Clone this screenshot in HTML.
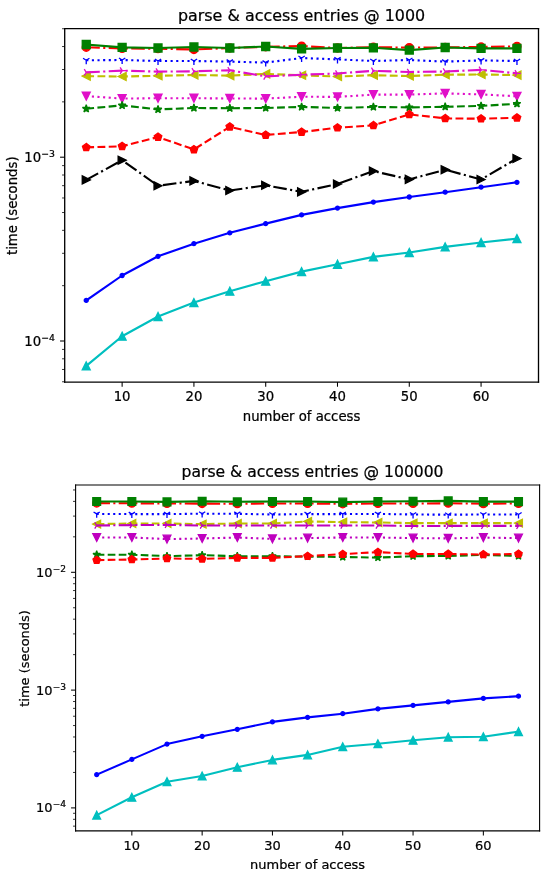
<!DOCTYPE html>
<html><head><meta charset="utf-8"><title>plot</title>
<style>html,body{margin:0;padding:0;background:#fff}svg{display:block}svg text{stroke:#000;stroke-width:0.17;stroke-linejoin:round}</style></head>
<body>
<svg width="550" height="873" viewBox="0 0 396 628.56" version="1.1">
 
 <defs>
  <style type="text/css">*{stroke-linejoin: round; stroke-linecap: butt}</style>
 </defs>
 <g id="figure_1">
  <g id="patch_1">
   <path d="M 0 628.56 
L 396 628.56 
L 396 0 
L 0 0 
z
" style="fill: #ffffff"/>
  </g>
  <g id="axes_1">
   <g id="patch_2">
    <path d="M 46.584 275.112 
L 387.72 275.112 
L 387.72 20.592 
L 46.584 20.592 
z
" style="fill: #ffffff"/>
   </g>
   <g id="matplotlib.axis_1">
    <g id="xtick_1">
     <g id="line2d_1">
      <defs>
       <path id="m4c61a40a9d" d="M 0 0 
L 0 3.3425 
" style="stroke: #000000; stroke-width: 0.764"/>
      </defs>
      <g>
       <use href="#m4c61a40a9d" x="87.933818" y="275.112" style="stroke: #000000; stroke-width: 0.764"/>
      </g>
     </g>
     <g id="text_1">
      <text style="font-size: 9.55px; font-family: 'DejaVu Sans', 'Liberation Sans', sans-serif; text-anchor: middle" x="87.933818" y="289.053508" transform="rotate(-0 87.933818 289.053508)">10</text>
     </g>
    </g>
    <g id="xtick_2">
     <g id="line2d_2">
      <g>
       <use href="#m4c61a40a9d" x="139.621091" y="275.112" style="stroke: #000000; stroke-width: 0.764"/>
      </g>
     </g>
     <g id="text_2">
      <text style="font-size: 9.55px; font-family: 'DejaVu Sans', 'Liberation Sans', sans-serif; text-anchor: middle" x="139.621091" y="289.053508" transform="rotate(-0 139.621091 289.053508)">20</text>
     </g>
    </g>
    <g id="xtick_3">
     <g id="line2d_3">
      <g>
       <use href="#m4c61a40a9d" x="191.308364" y="275.112" style="stroke: #000000; stroke-width: 0.764"/>
      </g>
     </g>
     <g id="text_3">
      <text style="font-size: 9.55px; font-family: 'DejaVu Sans', 'Liberation Sans', sans-serif; text-anchor: middle" x="191.308364" y="289.053508" transform="rotate(-0 191.308364 289.053508)">30</text>
     </g>
    </g>
    <g id="xtick_4">
     <g id="line2d_4">
      <g>
       <use href="#m4c61a40a9d" x="242.995636" y="275.112" style="stroke: #000000; stroke-width: 0.764"/>
      </g>
     </g>
     <g id="text_4">
      <text style="font-size: 9.55px; font-family: 'DejaVu Sans', 'Liberation Sans', sans-serif; text-anchor: middle" x="242.995636" y="289.053508" transform="rotate(-0 242.995636 289.053508)">40</text>
     </g>
    </g>
    <g id="xtick_5">
     <g id="line2d_5">
      <g>
       <use href="#m4c61a40a9d" x="294.682909" y="275.112" style="stroke: #000000; stroke-width: 0.764"/>
      </g>
     </g>
     <g id="text_5">
      <text style="font-size: 9.55px; font-family: 'DejaVu Sans', 'Liberation Sans', sans-serif; text-anchor: middle" x="294.682909" y="289.053508" transform="rotate(-0 294.682909 289.053508)">50</text>
     </g>
    </g>
    <g id="xtick_6">
     <g id="line2d_6">
      <g>
       <use href="#m4c61a40a9d" x="346.370182" y="275.112" style="stroke: #000000; stroke-width: 0.764"/>
      </g>
     </g>
     <g id="text_6">
      <text style="font-size: 9.55px; font-family: 'DejaVu Sans', 'Liberation Sans', sans-serif; text-anchor: middle" x="346.370182" y="289.053508" transform="rotate(-0 346.370182 289.053508)">60</text>
     </g>
    </g>
    <g id="text_7">
     <text style="font-size: 9.55px; font-family: 'DejaVu Sans', 'Liberation Sans', sans-serif; text-anchor: middle" x="217.152" y="302.836117" transform="rotate(-0 217.152 302.836117)">number of access</text>
    </g>
   </g>
   <g id="matplotlib.axis_2">
    <g id="ytick_1">
     <g id="line2d_7">
      <defs>
       <path id="m2932eb66a2" d="M 0 0 
L -3.3425 0 
" style="stroke: #000000; stroke-width: 0.764"/>
      </defs>
      <g>
       <use href="#m2932eb66a2" x="46.584" y="245.52" style="stroke: #000000; stroke-width: 0.764"/>
      </g>
     </g>
     <g id="text_8">
      <!-- $\mathdefault{10^{-4}}$ -->
      <g transform="translate(17.4565 249.2483)">
       <text><tspan x="0" y="-0.064063" style="font-size: 9.55px; font-family: 'DejaVu Sans', 'Liberation Sans', sans-serif">10</tspan><tspan x="12.184082" y="-3.892188" style="font-size: 6.685px; font-family: 'DejaVu Sans', 'Liberation Sans', sans-serif">−4</tspan></text>
      </g>
     </g>
    </g>
    <g id="ytick_2">
     <g id="line2d_8">
      <g>
       <use href="#m2932eb66a2" x="46.584" y="113.184" style="stroke: #000000; stroke-width: 0.764"/>
      </g>
     </g>
     <g id="text_9">
      <!-- $\mathdefault{10^{-3}}$ -->
      <g transform="translate(17.4565 117.7123)">
       <text><tspan x="0" y="-0.976562" style="font-size: 9.55px; font-family: 'DejaVu Sans', 'Liberation Sans', sans-serif">10</tspan><tspan x="12.184082" y="-4.804688" style="font-size: 6.685px; font-family: 'DejaVu Sans', 'Liberation Sans', sans-serif">−3</tspan></text>
      </g>
     </g>
    </g>
    <g id="ytick_3">
     <g id="line2d_9">
      <defs>
       <path id="m817a35c533" d="M 0 0 
L -1.91 0 
" style="stroke: #000000; stroke-width: 0.573"/>
      </defs>
      <g>
       <use href="#m817a35c533" x="46.584" y="274.878576" style="stroke: #000000; stroke-width: 0.573"/>
      </g>
     </g>
    </g>
    <g id="ytick_4">
     <g id="line2d_10">
      <g>
       <use href="#m817a35c533" x="46.584" y="266.019106" style="stroke: #000000; stroke-width: 0.573"/>
      </g>
     </g>
    </g>
    <g id="ytick_5">
     <g id="line2d_11">
      <g>
       <use href="#m817a35c533" x="46.584" y="258.344683" style="stroke: #000000; stroke-width: 0.573"/>
      </g>
     </g>
    </g>
    <g id="ytick_6">
     <g id="line2d_12">
      <g>
       <use href="#m817a35c533" x="46.584" y="251.575363" style="stroke: #000000; stroke-width: 0.573"/>
      </g>
     </g>
    </g>
    <g id="ytick_7">
     <g id="line2d_13">
      <g>
       <use href="#m817a35c533" x="46.584" y="205.682894" style="stroke: #000000; stroke-width: 0.573"/>
      </g>
     </g>
    </g>
    <g id="ytick_8">
     <g id="line2d_14">
      <g>
       <use href="#m817a35c533" x="46.584" y="182.379682" style="stroke: #000000; stroke-width: 0.573"/>
      </g>
     </g>
    </g>
    <g id="ytick_9">
     <g id="line2d_15">
      <g>
       <use href="#m817a35c533" x="46.584" y="165.845789" style="stroke: #000000; stroke-width: 0.573"/>
      </g>
     </g>
    </g>
    <g id="ytick_10">
     <g id="line2d_16">
      <g>
       <use href="#m817a35c533" x="46.584" y="153.021106" style="stroke: #000000; stroke-width: 0.573"/>
      </g>
     </g>
    </g>
    <g id="ytick_11">
     <g id="line2d_17">
      <g>
       <use href="#m817a35c533" x="46.584" y="142.542576" style="stroke: #000000; stroke-width: 0.573"/>
      </g>
     </g>
    </g>
    <g id="ytick_12">
     <g id="line2d_18">
      <g>
       <use href="#m817a35c533" x="46.584" y="133.683106" style="stroke: #000000; stroke-width: 0.573"/>
      </g>
     </g>
    </g>
    <g id="ytick_13">
     <g id="line2d_19">
      <g>
       <use href="#m817a35c533" x="46.584" y="126.008683" style="stroke: #000000; stroke-width: 0.573"/>
      </g>
     </g>
    </g>
    <g id="ytick_14">
     <g id="line2d_20">
      <g>
       <use href="#m817a35c533" x="46.584" y="119.239363" style="stroke: #000000; stroke-width: 0.573"/>
      </g>
     </g>
    </g>
    <g id="ytick_15">
     <g id="line2d_21">
      <g>
       <use href="#m817a35c533" x="46.584" y="73.346894" style="stroke: #000000; stroke-width: 0.573"/>
      </g>
     </g>
    </g>
    <g id="ytick_16">
     <g id="line2d_22">
      <g>
       <use href="#m817a35c533" x="46.584" y="50.043682" style="stroke: #000000; stroke-width: 0.573"/>
      </g>
     </g>
    </g>
    <g id="ytick_17">
     <g id="line2d_23">
      <g>
       <use href="#m817a35c533" x="46.584" y="33.509789" style="stroke: #000000; stroke-width: 0.573"/>
      </g>
     </g>
    </g>
    <g id="ytick_18">
     <g id="line2d_24">
      <g>
       <use href="#m817a35c533" x="46.584" y="20.685106" style="stroke: #000000; stroke-width: 0.573"/>
      </g>
     </g>
    </g>
    <g id="text_10">
     <text style="font-size: 9.55px; font-family: 'DejaVu Sans', 'Liberation Sans', sans-serif; text-anchor: middle" x="12.514398" y="148.14" transform="rotate(-90 12.514398 148.14)">time (seconds)</text>
    </g>
   </g>
   <g id="line2d_25">
    <path d="M 62.090182 34.056 
L 87.933818 34.848 
L 113.777455 35.064 
L 139.621091 35.64 
L 165.464727 34.56 
L 191.308364 33.696 
L 217.152 33.192 
L 242.995636 34.56 
L 268.839273 33.984 
L 294.682909 34.272 
L 320.526545 34.128 
L 346.370182 33.84 
L 372.213818 33.408 
" clip-path="url(#p0f699a3572)" style="fill: none; stroke-dasharray: 9.7792,2.4448,1.528,2.4448; stroke-dashoffset: 0; stroke: #ff0000; stroke-width: 1.528"/>
    <defs>
     <path id="m6b7f77aff9" d="M 0 2.865 
C 0.759807 2.865 1.488596 2.563126 2.025861 2.025861 
C 2.563126 1.488596 2.865 0.759807 2.865 0 
C 2.865 -0.759807 2.563126 -1.488596 2.025861 -2.025861 
C 1.488596 -2.563126 0.759807 -2.865 0 -2.865 
C -0.759807 -2.865 -1.488596 -2.563126 -2.025861 -2.025861 
C -2.563126 -1.488596 -2.865 -0.759807 -2.865 0 
C -2.865 0.759807 -2.563126 1.488596 -2.025861 2.025861 
C -1.488596 2.563126 -0.759807 2.865 0 2.865 
z
" style="stroke: #ff0000; stroke-width: 0.955"/>
    </defs>
    <g clip-path="url(#p0f699a3572)">
     <use href="#m6b7f77aff9" x="62.090182" y="34.056" style="fill: #ff0000; stroke: #ff0000; stroke-width: 0.955"/>
     <use href="#m6b7f77aff9" x="87.933818" y="34.848" style="fill: #ff0000; stroke: #ff0000; stroke-width: 0.955"/>
     <use href="#m6b7f77aff9" x="113.777455" y="35.064" style="fill: #ff0000; stroke: #ff0000; stroke-width: 0.955"/>
     <use href="#m6b7f77aff9" x="139.621091" y="35.64" style="fill: #ff0000; stroke: #ff0000; stroke-width: 0.955"/>
     <use href="#m6b7f77aff9" x="165.464727" y="34.56" style="fill: #ff0000; stroke: #ff0000; stroke-width: 0.955"/>
     <use href="#m6b7f77aff9" x="191.308364" y="33.696" style="fill: #ff0000; stroke: #ff0000; stroke-width: 0.955"/>
     <use href="#m6b7f77aff9" x="217.152" y="33.192" style="fill: #ff0000; stroke: #ff0000; stroke-width: 0.955"/>
     <use href="#m6b7f77aff9" x="242.995636" y="34.56" style="fill: #ff0000; stroke: #ff0000; stroke-width: 0.955"/>
     <use href="#m6b7f77aff9" x="268.839273" y="33.984" style="fill: #ff0000; stroke: #ff0000; stroke-width: 0.955"/>
     <use href="#m6b7f77aff9" x="294.682909" y="34.272" style="fill: #ff0000; stroke: #ff0000; stroke-width: 0.955"/>
     <use href="#m6b7f77aff9" x="320.526545" y="34.128" style="fill: #ff0000; stroke: #ff0000; stroke-width: 0.955"/>
     <use href="#m6b7f77aff9" x="346.370182" y="33.84" style="fill: #ff0000; stroke: #ff0000; stroke-width: 0.955"/>
     <use href="#m6b7f77aff9" x="372.213818" y="33.408" style="fill: #ff0000; stroke: #ff0000; stroke-width: 0.955"/>
    </g>
   </g>
   <g id="line2d_26">
    <path d="M 62.090182 32.04 
L 87.933818 34.128 
L 113.777455 34.56 
L 139.621091 33.84 
L 165.464727 34.56 
L 191.308364 33.48 
L 217.152 35.208 
L 242.995636 34.56 
L 268.839273 34.416 
L 294.682909 36.072 
L 320.526545 34.2 
L 346.370182 34.848 
L 372.213818 34.848 
" clip-path="url(#p0f699a3572)" style="fill: none; stroke: #008000; stroke-width: 1.528; stroke-linecap: square"/>
    <defs>
     <path id="m491d82b2be" d="M -2.865 2.865 
L 2.865 2.865 
L 2.865 -2.865 
L -2.865 -2.865 
z
" style="stroke: #008000; stroke-width: 0.955; stroke-linejoin: miter"/>
    </defs>
    <g clip-path="url(#p0f699a3572)">
     <use href="#m491d82b2be" x="62.090182" y="32.04" style="fill: #008000; stroke: #008000; stroke-width: 0.955; stroke-linejoin: miter"/>
     <use href="#m491d82b2be" x="87.933818" y="34.128" style="fill: #008000; stroke: #008000; stroke-width: 0.955; stroke-linejoin: miter"/>
     <use href="#m491d82b2be" x="113.777455" y="34.56" style="fill: #008000; stroke: #008000; stroke-width: 0.955; stroke-linejoin: miter"/>
     <use href="#m491d82b2be" x="139.621091" y="33.84" style="fill: #008000; stroke: #008000; stroke-width: 0.955; stroke-linejoin: miter"/>
     <use href="#m491d82b2be" x="165.464727" y="34.56" style="fill: #008000; stroke: #008000; stroke-width: 0.955; stroke-linejoin: miter"/>
     <use href="#m491d82b2be" x="191.308364" y="33.48" style="fill: #008000; stroke: #008000; stroke-width: 0.955; stroke-linejoin: miter"/>
     <use href="#m491d82b2be" x="217.152" y="35.208" style="fill: #008000; stroke: #008000; stroke-width: 0.955; stroke-linejoin: miter"/>
     <use href="#m491d82b2be" x="242.995636" y="34.56" style="fill: #008000; stroke: #008000; stroke-width: 0.955; stroke-linejoin: miter"/>
     <use href="#m491d82b2be" x="268.839273" y="34.416" style="fill: #008000; stroke: #008000; stroke-width: 0.955; stroke-linejoin: miter"/>
     <use href="#m491d82b2be" x="294.682909" y="36.072" style="fill: #008000; stroke: #008000; stroke-width: 0.955; stroke-linejoin: miter"/>
     <use href="#m491d82b2be" x="320.526545" y="34.2" style="fill: #008000; stroke: #008000; stroke-width: 0.955; stroke-linejoin: miter"/>
     <use href="#m491d82b2be" x="346.370182" y="34.848" style="fill: #008000; stroke: #008000; stroke-width: 0.955; stroke-linejoin: miter"/>
     <use href="#m491d82b2be" x="372.213818" y="34.848" style="fill: #008000; stroke: #008000; stroke-width: 0.955; stroke-linejoin: miter"/>
    </g>
   </g>
   <g id="line2d_27">
    <path d="M 62.090182 43.416 
L 87.933818 43.2 
L 113.777455 43.92 
L 139.621091 43.92 
L 165.464727 44.352 
L 191.308364 45.072 
L 217.152 41.76 
L 242.995636 42.768 
L 268.839273 43.92 
L 294.682909 43.2 
L 320.526545 44.352 
L 346.370182 43.488 
L 372.213818 43.92 
" clip-path="url(#p0f699a3572)" style="fill: none; stroke-dasharray: 1.528,2.5212; stroke-dashoffset: 0; stroke: #0000ff; stroke-width: 1.528"/>
    <defs>
     <path id="m203b825f68" d="M 0 0 
L 0 2.865 
M 0 0 
L 2.292 -1.4325 
M 0 0 
L -2.292 -1.4325 
" style="stroke: #0000ff; stroke-width: 0.955"/>
    </defs>
    <g clip-path="url(#p0f699a3572)">
     <use href="#m203b825f68" x="62.090182" y="43.416" style="fill: #0000ff; stroke: #0000ff; stroke-width: 0.955"/>
     <use href="#m203b825f68" x="87.933818" y="43.2" style="fill: #0000ff; stroke: #0000ff; stroke-width: 0.955"/>
     <use href="#m203b825f68" x="113.777455" y="43.92" style="fill: #0000ff; stroke: #0000ff; stroke-width: 0.955"/>
     <use href="#m203b825f68" x="139.621091" y="43.92" style="fill: #0000ff; stroke: #0000ff; stroke-width: 0.955"/>
     <use href="#m203b825f68" x="165.464727" y="44.352" style="fill: #0000ff; stroke: #0000ff; stroke-width: 0.955"/>
     <use href="#m203b825f68" x="191.308364" y="45.072" style="fill: #0000ff; stroke: #0000ff; stroke-width: 0.955"/>
     <use href="#m203b825f68" x="217.152" y="41.76" style="fill: #0000ff; stroke: #0000ff; stroke-width: 0.955"/>
     <use href="#m203b825f68" x="242.995636" y="42.768" style="fill: #0000ff; stroke: #0000ff; stroke-width: 0.955"/>
     <use href="#m203b825f68" x="268.839273" y="43.92" style="fill: #0000ff; stroke: #0000ff; stroke-width: 0.955"/>
     <use href="#m203b825f68" x="294.682909" y="43.2" style="fill: #0000ff; stroke: #0000ff; stroke-width: 0.955"/>
     <use href="#m203b825f68" x="320.526545" y="44.352" style="fill: #0000ff; stroke: #0000ff; stroke-width: 0.955"/>
     <use href="#m203b825f68" x="346.370182" y="43.488" style="fill: #0000ff; stroke: #0000ff; stroke-width: 0.955"/>
     <use href="#m203b825f68" x="372.213818" y="43.92" style="fill: #0000ff; stroke: #0000ff; stroke-width: 0.955"/>
    </g>
   </g>
   <g id="line2d_28">
    <path d="M 62.090182 54.792 
L 87.933818 55.08 
L 113.777455 54.576 
L 139.621091 54 
L 165.464727 54.432 
L 191.308364 53.208 
L 217.152 54.216 
L 242.995636 55.08 
L 268.839273 54.144 
L 294.682909 54.72 
L 320.526545 53.784 
L 346.370182 53.64 
L 372.213818 54.072 
" clip-path="url(#p0f699a3572)" style="fill: none; stroke-dasharray: 5.6536,2.4448; stroke-dashoffset: 0; stroke: #bfbf00; stroke-width: 1.528"/>
    <defs>
     <path id="mba5e6a3d21" d="M -2.865 -0 
L 2.865 2.865 
L 2.865 -2.865 
z
" style="stroke: #bfbf00; stroke-width: 0.955; stroke-linejoin: miter"/>
    </defs>
    <g clip-path="url(#p0f699a3572)">
     <use href="#mba5e6a3d21" x="62.090182" y="54.792" style="fill: #bfbf00; stroke: #bfbf00; stroke-width: 0.955; stroke-linejoin: miter"/>
     <use href="#mba5e6a3d21" x="87.933818" y="55.08" style="fill: #bfbf00; stroke: #bfbf00; stroke-width: 0.955; stroke-linejoin: miter"/>
     <use href="#mba5e6a3d21" x="113.777455" y="54.576" style="fill: #bfbf00; stroke: #bfbf00; stroke-width: 0.955; stroke-linejoin: miter"/>
     <use href="#mba5e6a3d21" x="139.621091" y="54" style="fill: #bfbf00; stroke: #bfbf00; stroke-width: 0.955; stroke-linejoin: miter"/>
     <use href="#mba5e6a3d21" x="165.464727" y="54.432" style="fill: #bfbf00; stroke: #bfbf00; stroke-width: 0.955; stroke-linejoin: miter"/>
     <use href="#mba5e6a3d21" x="191.308364" y="53.208" style="fill: #bfbf00; stroke: #bfbf00; stroke-width: 0.955; stroke-linejoin: miter"/>
     <use href="#mba5e6a3d21" x="217.152" y="54.216" style="fill: #bfbf00; stroke: #bfbf00; stroke-width: 0.955; stroke-linejoin: miter"/>
     <use href="#mba5e6a3d21" x="242.995636" y="55.08" style="fill: #bfbf00; stroke: #bfbf00; stroke-width: 0.955; stroke-linejoin: miter"/>
     <use href="#mba5e6a3d21" x="268.839273" y="54.144" style="fill: #bfbf00; stroke: #bfbf00; stroke-width: 0.955; stroke-linejoin: miter"/>
     <use href="#mba5e6a3d21" x="294.682909" y="54.72" style="fill: #bfbf00; stroke: #bfbf00; stroke-width: 0.955; stroke-linejoin: miter"/>
     <use href="#mba5e6a3d21" x="320.526545" y="53.784" style="fill: #bfbf00; stroke: #bfbf00; stroke-width: 0.955; stroke-linejoin: miter"/>
     <use href="#mba5e6a3d21" x="346.370182" y="53.64" style="fill: #bfbf00; stroke: #bfbf00; stroke-width: 0.955; stroke-linejoin: miter"/>
     <use href="#mba5e6a3d21" x="372.213818" y="54.072" style="fill: #bfbf00; stroke: #bfbf00; stroke-width: 0.955; stroke-linejoin: miter"/>
    </g>
   </g>
   <g id="line2d_29">
    <path d="M 62.090182 52.128 
L 87.933818 50.832 
L 113.777455 51.552 
L 139.621091 51.336 
L 165.464727 50.616 
L 191.308364 55.008 
L 217.152 53.784 
L 242.995636 52.92 
L 268.839273 50.976 
L 294.682909 51.84 
L 320.526545 51.48 
L 346.370182 50.328 
L 372.213818 52.776 
" clip-path="url(#p0f699a3572)" style="fill: none; stroke-dasharray: 9.7792,2.4448,1.528,2.4448; stroke-dashoffset: 0; stroke: #e010c8; stroke-width: 1.528"/>
    <defs>
     <path id="md42660d418" d="M 0 0 
L 2.865 0 
M 0 0 
L -1.4325 -2.292 
M 0 0 
L -1.4325 2.292 
" style="stroke: #e010c8; stroke-width: 0.955"/>
    </defs>
    <g clip-path="url(#p0f699a3572)">
     <use href="#md42660d418" x="62.090182" y="52.128" style="fill: #e010c8; stroke: #e010c8; stroke-width: 0.955"/>
     <use href="#md42660d418" x="87.933818" y="50.832" style="fill: #e010c8; stroke: #e010c8; stroke-width: 0.955"/>
     <use href="#md42660d418" x="113.777455" y="51.552" style="fill: #e010c8; stroke: #e010c8; stroke-width: 0.955"/>
     <use href="#md42660d418" x="139.621091" y="51.336" style="fill: #e010c8; stroke: #e010c8; stroke-width: 0.955"/>
     <use href="#md42660d418" x="165.464727" y="50.616" style="fill: #e010c8; stroke: #e010c8; stroke-width: 0.955"/>
     <use href="#md42660d418" x="191.308364" y="55.008" style="fill: #e010c8; stroke: #e010c8; stroke-width: 0.955"/>
     <use href="#md42660d418" x="217.152" y="53.784" style="fill: #e010c8; stroke: #e010c8; stroke-width: 0.955"/>
     <use href="#md42660d418" x="242.995636" y="52.92" style="fill: #e010c8; stroke: #e010c8; stroke-width: 0.955"/>
     <use href="#md42660d418" x="268.839273" y="50.976" style="fill: #e010c8; stroke: #e010c8; stroke-width: 0.955"/>
     <use href="#md42660d418" x="294.682909" y="51.84" style="fill: #e010c8; stroke: #e010c8; stroke-width: 0.955"/>
     <use href="#md42660d418" x="320.526545" y="51.48" style="fill: #e010c8; stroke: #e010c8; stroke-width: 0.955"/>
     <use href="#md42660d418" x="346.370182" y="50.328" style="fill: #e010c8; stroke: #e010c8; stroke-width: 0.955"/>
     <use href="#md42660d418" x="372.213818" y="52.776" style="fill: #e010c8; stroke: #e010c8; stroke-width: 0.955"/>
    </g>
   </g>
   <g id="line2d_30">
    <path d="M 62.090182 69.192 
L 87.933818 70.992 
L 113.777455 70.704 
L 139.621091 70.704 
L 165.464727 70.92 
L 191.308364 70.992 
L 217.152 69.624 
L 242.995636 69.768 
L 268.839273 68.112 
L 294.682909 68.112 
L 320.526545 67.248 
L 346.370182 67.968 
L 372.213818 69.336 
" clip-path="url(#p0f699a3572)" style="fill: none; stroke-dasharray: 1.528,2.5212; stroke-dashoffset: 0; stroke: #e010c8; stroke-width: 1.528"/>
    <defs>
     <path id="m65bad727e9" d="M -0 2.865 
L 2.865 -2.865 
L -2.865 -2.865 
z
" style="stroke: #e010c8; stroke-width: 0.955; stroke-linejoin: miter"/>
    </defs>
    <g clip-path="url(#p0f699a3572)">
     <use href="#m65bad727e9" x="62.090182" y="69.192" style="fill: #e010c8; stroke: #e010c8; stroke-width: 0.955; stroke-linejoin: miter"/>
     <use href="#m65bad727e9" x="87.933818" y="70.992" style="fill: #e010c8; stroke: #e010c8; stroke-width: 0.955; stroke-linejoin: miter"/>
     <use href="#m65bad727e9" x="113.777455" y="70.704" style="fill: #e010c8; stroke: #e010c8; stroke-width: 0.955; stroke-linejoin: miter"/>
     <use href="#m65bad727e9" x="139.621091" y="70.704" style="fill: #e010c8; stroke: #e010c8; stroke-width: 0.955; stroke-linejoin: miter"/>
     <use href="#m65bad727e9" x="165.464727" y="70.92" style="fill: #e010c8; stroke: #e010c8; stroke-width: 0.955; stroke-linejoin: miter"/>
     <use href="#m65bad727e9" x="191.308364" y="70.992" style="fill: #e010c8; stroke: #e010c8; stroke-width: 0.955; stroke-linejoin: miter"/>
     <use href="#m65bad727e9" x="217.152" y="69.624" style="fill: #e010c8; stroke: #e010c8; stroke-width: 0.955; stroke-linejoin: miter"/>
     <use href="#m65bad727e9" x="242.995636" y="69.768" style="fill: #e010c8; stroke: #e010c8; stroke-width: 0.955; stroke-linejoin: miter"/>
     <use href="#m65bad727e9" x="268.839273" y="68.112" style="fill: #e010c8; stroke: #e010c8; stroke-width: 0.955; stroke-linejoin: miter"/>
     <use href="#m65bad727e9" x="294.682909" y="68.112" style="fill: #e010c8; stroke: #e010c8; stroke-width: 0.955; stroke-linejoin: miter"/>
     <use href="#m65bad727e9" x="320.526545" y="67.248" style="fill: #e010c8; stroke: #e010c8; stroke-width: 0.955; stroke-linejoin: miter"/>
     <use href="#m65bad727e9" x="346.370182" y="67.968" style="fill: #e010c8; stroke: #e010c8; stroke-width: 0.955; stroke-linejoin: miter"/>
     <use href="#m65bad727e9" x="372.213818" y="69.336" style="fill: #e010c8; stroke: #e010c8; stroke-width: 0.955; stroke-linejoin: miter"/>
    </g>
   </g>
   <g id="line2d_31">
    <path d="M 62.090182 78.264 
L 87.933818 75.888 
L 113.777455 78.768 
L 139.621091 77.76 
L 165.464727 77.904 
L 191.308364 77.76 
L 217.152 76.968 
L 242.995636 77.76 
L 268.839273 77.04 
L 294.682909 77.328 
L 320.526545 76.896 
L 346.370182 76.248 
L 372.213818 74.736 
" clip-path="url(#p0f699a3572)" style="fill: none; stroke-dasharray: 5.6536,2.4448; stroke-dashoffset: 0; stroke: #008000; stroke-width: 1.528"/>
    <defs>
     <path id="m252364d992" d="M 0 -2.865 
L -0.643233 -0.885334 
L -2.724777 -0.885334 
L -1.040772 0.338167 
L -1.684005 2.317834 
L -0 1.094333 
L 1.684005 2.317834 
L 1.040772 0.338167 
L 2.724777 -0.885334 
L 0.643233 -0.885334 
z
" style="stroke: #008000; stroke-width: 0.955; stroke-linejoin: bevel"/>
    </defs>
    <g clip-path="url(#p0f699a3572)">
     <use href="#m252364d992" x="62.090182" y="78.264" style="fill: #008000; stroke: #008000; stroke-width: 0.955; stroke-linejoin: bevel"/>
     <use href="#m252364d992" x="87.933818" y="75.888" style="fill: #008000; stroke: #008000; stroke-width: 0.955; stroke-linejoin: bevel"/>
     <use href="#m252364d992" x="113.777455" y="78.768" style="fill: #008000; stroke: #008000; stroke-width: 0.955; stroke-linejoin: bevel"/>
     <use href="#m252364d992" x="139.621091" y="77.76" style="fill: #008000; stroke: #008000; stroke-width: 0.955; stroke-linejoin: bevel"/>
     <use href="#m252364d992" x="165.464727" y="77.904" style="fill: #008000; stroke: #008000; stroke-width: 0.955; stroke-linejoin: bevel"/>
     <use href="#m252364d992" x="191.308364" y="77.76" style="fill: #008000; stroke: #008000; stroke-width: 0.955; stroke-linejoin: bevel"/>
     <use href="#m252364d992" x="217.152" y="76.968" style="fill: #008000; stroke: #008000; stroke-width: 0.955; stroke-linejoin: bevel"/>
     <use href="#m252364d992" x="242.995636" y="77.76" style="fill: #008000; stroke: #008000; stroke-width: 0.955; stroke-linejoin: bevel"/>
     <use href="#m252364d992" x="268.839273" y="77.04" style="fill: #008000; stroke: #008000; stroke-width: 0.955; stroke-linejoin: bevel"/>
     <use href="#m252364d992" x="294.682909" y="77.328" style="fill: #008000; stroke: #008000; stroke-width: 0.955; stroke-linejoin: bevel"/>
     <use href="#m252364d992" x="320.526545" y="76.896" style="fill: #008000; stroke: #008000; stroke-width: 0.955; stroke-linejoin: bevel"/>
     <use href="#m252364d992" x="346.370182" y="76.248" style="fill: #008000; stroke: #008000; stroke-width: 0.955; stroke-linejoin: bevel"/>
     <use href="#m252364d992" x="372.213818" y="74.736" style="fill: #008000; stroke: #008000; stroke-width: 0.955; stroke-linejoin: bevel"/>
    </g>
   </g>
   <g id="line2d_32">
    <path d="M 62.090182 106.128 
L 87.933818 105.336 
L 113.777455 98.64 
L 139.621091 107.64 
L 165.464727 91.296 
L 191.308364 97.2 
L 217.152 95.04 
L 242.995636 91.944 
L 268.839273 90.288 
L 294.682909 82.368 
L 320.526545 85.248 
L 346.370182 85.464 
L 372.213818 84.816 
" clip-path="url(#p0f699a3572)" style="fill: none; stroke-dasharray: 5.6536,2.4448; stroke-dashoffset: 0; stroke: #ff0000; stroke-width: 1.528"/>
    <defs>
     <path id="m0a466c6c60" d="M 0 -2.865 
L -2.724777 -0.885334 
L -1.684005 2.317834 
L 1.684005 2.317834 
L 2.724777 -0.885334 
z
" style="stroke: #ff0000; stroke-width: 0.955; stroke-linejoin: miter"/>
    </defs>
    <g clip-path="url(#p0f699a3572)">
     <use href="#m0a466c6c60" x="62.090182" y="106.128" style="fill: #ff0000; stroke: #ff0000; stroke-width: 0.955; stroke-linejoin: miter"/>
     <use href="#m0a466c6c60" x="87.933818" y="105.336" style="fill: #ff0000; stroke: #ff0000; stroke-width: 0.955; stroke-linejoin: miter"/>
     <use href="#m0a466c6c60" x="113.777455" y="98.64" style="fill: #ff0000; stroke: #ff0000; stroke-width: 0.955; stroke-linejoin: miter"/>
     <use href="#m0a466c6c60" x="139.621091" y="107.64" style="fill: #ff0000; stroke: #ff0000; stroke-width: 0.955; stroke-linejoin: miter"/>
     <use href="#m0a466c6c60" x="165.464727" y="91.296" style="fill: #ff0000; stroke: #ff0000; stroke-width: 0.955; stroke-linejoin: miter"/>
     <use href="#m0a466c6c60" x="191.308364" y="97.2" style="fill: #ff0000; stroke: #ff0000; stroke-width: 0.955; stroke-linejoin: miter"/>
     <use href="#m0a466c6c60" x="217.152" y="95.04" style="fill: #ff0000; stroke: #ff0000; stroke-width: 0.955; stroke-linejoin: miter"/>
     <use href="#m0a466c6c60" x="242.995636" y="91.944" style="fill: #ff0000; stroke: #ff0000; stroke-width: 0.955; stroke-linejoin: miter"/>
     <use href="#m0a466c6c60" x="268.839273" y="90.288" style="fill: #ff0000; stroke: #ff0000; stroke-width: 0.955; stroke-linejoin: miter"/>
     <use href="#m0a466c6c60" x="294.682909" y="82.368" style="fill: #ff0000; stroke: #ff0000; stroke-width: 0.955; stroke-linejoin: miter"/>
     <use href="#m0a466c6c60" x="320.526545" y="85.248" style="fill: #ff0000; stroke: #ff0000; stroke-width: 0.955; stroke-linejoin: miter"/>
     <use href="#m0a466c6c60" x="346.370182" y="85.464" style="fill: #ff0000; stroke: #ff0000; stroke-width: 0.955; stroke-linejoin: miter"/>
     <use href="#m0a466c6c60" x="372.213818" y="84.816" style="fill: #ff0000; stroke: #ff0000; stroke-width: 0.955; stroke-linejoin: miter"/>
    </g>
   </g>
   <g id="line2d_33">
    <path d="M 62.090182 129.528 
L 87.933818 115.344 
L 113.777455 133.776 
L 139.621091 130.248 
L 165.464727 137.16 
L 191.308364 133.416 
L 217.152 138.168 
L 242.995636 132.48 
L 268.839273 123.192 
L 294.682909 129.168 
L 320.526545 122.184 
L 346.370182 129.24 
L 372.213818 114.12 
" clip-path="url(#p0f699a3572)" style="fill: none; stroke-dasharray: 9.7792,2.4448,1.528,2.4448; stroke-dashoffset: 0; stroke: #000000; stroke-width: 1.528"/>
    <defs>
     <path id="m690c026492" d="M 2.865 0 
L -2.865 -2.865 
L -2.865 2.865 
z
" style="stroke: #000000; stroke-width: 0.955; stroke-linejoin: miter"/>
    </defs>
    <g clip-path="url(#p0f699a3572)">
     <use href="#m690c026492" x="62.090182" y="129.528" style="stroke: #000000; stroke-width: 0.955; stroke-linejoin: miter"/>
     <use href="#m690c026492" x="87.933818" y="115.344" style="stroke: #000000; stroke-width: 0.955; stroke-linejoin: miter"/>
     <use href="#m690c026492" x="113.777455" y="133.776" style="stroke: #000000; stroke-width: 0.955; stroke-linejoin: miter"/>
     <use href="#m690c026492" x="139.621091" y="130.248" style="stroke: #000000; stroke-width: 0.955; stroke-linejoin: miter"/>
     <use href="#m690c026492" x="165.464727" y="137.16" style="stroke: #000000; stroke-width: 0.955; stroke-linejoin: miter"/>
     <use href="#m690c026492" x="191.308364" y="133.416" style="stroke: #000000; stroke-width: 0.955; stroke-linejoin: miter"/>
     <use href="#m690c026492" x="217.152" y="138.168" style="stroke: #000000; stroke-width: 0.955; stroke-linejoin: miter"/>
     <use href="#m690c026492" x="242.995636" y="132.48" style="stroke: #000000; stroke-width: 0.955; stroke-linejoin: miter"/>
     <use href="#m690c026492" x="268.839273" y="123.192" style="stroke: #000000; stroke-width: 0.955; stroke-linejoin: miter"/>
     <use href="#m690c026492" x="294.682909" y="129.168" style="stroke: #000000; stroke-width: 0.955; stroke-linejoin: miter"/>
     <use href="#m690c026492" x="320.526545" y="122.184" style="stroke: #000000; stroke-width: 0.955; stroke-linejoin: miter"/>
     <use href="#m690c026492" x="346.370182" y="129.24" style="stroke: #000000; stroke-width: 0.955; stroke-linejoin: miter"/>
     <use href="#m690c026492" x="372.213818" y="114.12" style="stroke: #000000; stroke-width: 0.955; stroke-linejoin: miter"/>
    </g>
   </g>
   <g id="line2d_34">
    <path d="M 62.090182 216.288 
L 87.933818 198.36 
L 113.777455 184.536 
L 139.621091 175.464 
L 165.464727 167.616 
L 191.308364 160.992 
L 217.152 154.728 
L 242.995636 149.832 
L 268.839273 145.512 
L 294.682909 141.84 
L 320.526545 138.384 
L 346.370182 134.784 
L 372.213818 131.256 
" clip-path="url(#p0f699a3572)" style="fill: none; stroke: #0000ff; stroke-width: 1.528; stroke-linecap: square"/>
    <defs>
     <path id="m71d69ee268" d="M 0 1.4325 
C 0.379903 1.4325 0.744298 1.281563 1.01293 1.01293 
C 1.281563 0.744298 1.4325 0.379903 1.4325 0 
C 1.4325 -0.379903 1.281563 -0.744298 1.01293 -1.01293 
C 0.744298 -1.281563 0.379903 -1.4325 0 -1.4325 
C -0.379903 -1.4325 -0.744298 -1.281563 -1.01293 -1.01293 
C -1.281563 -0.744298 -1.4325 -0.379903 -1.4325 0 
C -1.4325 0.379903 -1.281563 0.744298 -1.01293 1.01293 
C -0.744298 1.281563 -0.379903 1.4325 0 1.4325 
z
" style="stroke: #0000ff; stroke-width: 0.955"/>
    </defs>
    <g clip-path="url(#p0f699a3572)">
     <use href="#m71d69ee268" x="62.090182" y="216.288" style="fill: #0000ff; stroke: #0000ff; stroke-width: 0.955"/>
     <use href="#m71d69ee268" x="87.933818" y="198.36" style="fill: #0000ff; stroke: #0000ff; stroke-width: 0.955"/>
     <use href="#m71d69ee268" x="113.777455" y="184.536" style="fill: #0000ff; stroke: #0000ff; stroke-width: 0.955"/>
     <use href="#m71d69ee268" x="139.621091" y="175.464" style="fill: #0000ff; stroke: #0000ff; stroke-width: 0.955"/>
     <use href="#m71d69ee268" x="165.464727" y="167.616" style="fill: #0000ff; stroke: #0000ff; stroke-width: 0.955"/>
     <use href="#m71d69ee268" x="191.308364" y="160.992" style="fill: #0000ff; stroke: #0000ff; stroke-width: 0.955"/>
     <use href="#m71d69ee268" x="217.152" y="154.728" style="fill: #0000ff; stroke: #0000ff; stroke-width: 0.955"/>
     <use href="#m71d69ee268" x="242.995636" y="149.832" style="fill: #0000ff; stroke: #0000ff; stroke-width: 0.955"/>
     <use href="#m71d69ee268" x="268.839273" y="145.512" style="fill: #0000ff; stroke: #0000ff; stroke-width: 0.955"/>
     <use href="#m71d69ee268" x="294.682909" y="141.84" style="fill: #0000ff; stroke: #0000ff; stroke-width: 0.955"/>
     <use href="#m71d69ee268" x="320.526545" y="138.384" style="fill: #0000ff; stroke: #0000ff; stroke-width: 0.955"/>
     <use href="#m71d69ee268" x="346.370182" y="134.784" style="fill: #0000ff; stroke: #0000ff; stroke-width: 0.955"/>
     <use href="#m71d69ee268" x="372.213818" y="131.256" style="fill: #0000ff; stroke: #0000ff; stroke-width: 0.955"/>
    </g>
   </g>
   <g id="line2d_35">
    <path d="M 62.090182 263.448 
L 87.933818 242.064 
L 113.777455 227.88 
L 139.621091 217.872 
L 165.464727 209.664 
L 191.308364 202.464 
L 217.152 195.552 
L 242.995636 190.296 
L 268.839273 184.968 
L 294.682909 181.8 
L 320.526545 177.768 
L 346.370182 174.6 
L 372.213818 171.792 
" clip-path="url(#p0f699a3572)" style="fill: none; stroke: #00bfbf; stroke-width: 1.528; stroke-linecap: square"/>
    <defs>
     <path id="m3737669910" d="M 0 -2.865 
L -2.865 2.865 
L 2.865 2.865 
z
" style="stroke: #00bfbf; stroke-width: 0.955; stroke-linejoin: miter"/>
    </defs>
    <g clip-path="url(#p0f699a3572)">
     <use href="#m3737669910" x="62.090182" y="263.448" style="fill: #00bfbf; stroke: #00bfbf; stroke-width: 0.955; stroke-linejoin: miter"/>
     <use href="#m3737669910" x="87.933818" y="242.064" style="fill: #00bfbf; stroke: #00bfbf; stroke-width: 0.955; stroke-linejoin: miter"/>
     <use href="#m3737669910" x="113.777455" y="227.88" style="fill: #00bfbf; stroke: #00bfbf; stroke-width: 0.955; stroke-linejoin: miter"/>
     <use href="#m3737669910" x="139.621091" y="217.872" style="fill: #00bfbf; stroke: #00bfbf; stroke-width: 0.955; stroke-linejoin: miter"/>
     <use href="#m3737669910" x="165.464727" y="209.664" style="fill: #00bfbf; stroke: #00bfbf; stroke-width: 0.955; stroke-linejoin: miter"/>
     <use href="#m3737669910" x="191.308364" y="202.464" style="fill: #00bfbf; stroke: #00bfbf; stroke-width: 0.955; stroke-linejoin: miter"/>
     <use href="#m3737669910" x="217.152" y="195.552" style="fill: #00bfbf; stroke: #00bfbf; stroke-width: 0.955; stroke-linejoin: miter"/>
     <use href="#m3737669910" x="242.995636" y="190.296" style="fill: #00bfbf; stroke: #00bfbf; stroke-width: 0.955; stroke-linejoin: miter"/>
     <use href="#m3737669910" x="268.839273" y="184.968" style="fill: #00bfbf; stroke: #00bfbf; stroke-width: 0.955; stroke-linejoin: miter"/>
     <use href="#m3737669910" x="294.682909" y="181.8" style="fill: #00bfbf; stroke: #00bfbf; stroke-width: 0.955; stroke-linejoin: miter"/>
     <use href="#m3737669910" x="320.526545" y="177.768" style="fill: #00bfbf; stroke: #00bfbf; stroke-width: 0.955; stroke-linejoin: miter"/>
     <use href="#m3737669910" x="346.370182" y="174.6" style="fill: #00bfbf; stroke: #00bfbf; stroke-width: 0.955; stroke-linejoin: miter"/>
     <use href="#m3737669910" x="372.213818" y="171.792" style="fill: #00bfbf; stroke: #00bfbf; stroke-width: 0.955; stroke-linejoin: miter"/>
    </g>
   </g>
   <g id="patch_3">
    <path d="M 46.584 275.112 
L 46.584 20.592 
" style="fill: none; stroke: #000000; stroke-width: 0.955; stroke-linejoin: miter; stroke-linecap: square"/>
   </g>
   <g id="patch_4">
    <path d="M 387.72 275.112 
L 387.72 20.592 
" style="fill: none; stroke: #000000; stroke-width: 0.955; stroke-linejoin: miter; stroke-linecap: square"/>
   </g>
   <g id="patch_5">
    <path d="M 46.584 275.112 
L 387.72 275.112 
" style="fill: none; stroke: #000000; stroke-width: 0.955; stroke-linejoin: miter; stroke-linecap: square"/>
   </g>
   <g id="patch_6">
    <path d="M 46.584 20.592 
L 387.72 20.592 
" style="fill: none; stroke: #000000; stroke-width: 0.955; stroke-linejoin: miter; stroke-linecap: square"/>
   </g>
   <g id="text_11">
    <text style="font-size: 11.46px; font-family: 'DejaVu Sans', 'Liberation Sans', sans-serif; text-anchor: middle" x="217.152" y="14.862" transform="rotate(-0 217.152 14.862)">parse &amp; access entries @ 1000</text>
   </g>
  </g>
  <g id="axes_2">
   <g id="patch_7">
    <path d="M 54.432 598.248 
L 388.512 598.248 
L 388.512 349.2 
L 54.432 349.2 
z
" style="fill: #ffffff"/>
   </g>
   <g id="matplotlib.axis_3">
    <g id="xtick_7">
     <g id="line2d_36">
      <defs>
       <path id="mbb0f81d00a" d="M 0 0 
L 0 3.2725 
" style="stroke: #000000; stroke-width: 0.748"/>
      </defs>
      <g>
       <use href="#mbb0f81d00a" x="94.926545" y="598.248" style="stroke: #000000; stroke-width: 0.748"/>
      </g>
     </g>
     <g id="text_12">
      <text style="font-size: 9.35px; font-family: 'DejaVu Sans', 'Liberation Sans', sans-serif; text-anchor: middle" x="94.926545" y="611.897539" transform="rotate(-0 94.926545 611.897539)">10</text>
     </g>
    </g>
    <g id="xtick_8">
     <g id="line2d_37">
      <g>
       <use href="#mbb0f81d00a" x="145.544727" y="598.248" style="stroke: #000000; stroke-width: 0.748"/>
      </g>
     </g>
     <g id="text_13">
      <text style="font-size: 9.35px; font-family: 'DejaVu Sans', 'Liberation Sans', sans-serif; text-anchor: middle" x="145.544727" y="611.897539" transform="rotate(-0 145.544727 611.897539)">20</text>
     </g>
    </g>
    <g id="xtick_9">
     <g id="line2d_38">
      <g>
       <use href="#mbb0f81d00a" x="196.162909" y="598.248" style="stroke: #000000; stroke-width: 0.748"/>
      </g>
     </g>
     <g id="text_14">
      <text style="font-size: 9.35px; font-family: 'DejaVu Sans', 'Liberation Sans', sans-serif; text-anchor: middle" x="196.162909" y="611.897539" transform="rotate(-0 196.162909 611.897539)">30</text>
     </g>
    </g>
    <g id="xtick_10">
     <g id="line2d_39">
      <g>
       <use href="#mbb0f81d00a" x="246.781091" y="598.248" style="stroke: #000000; stroke-width: 0.748"/>
      </g>
     </g>
     <g id="text_15">
      <text style="font-size: 9.35px; font-family: 'DejaVu Sans', 'Liberation Sans', sans-serif; text-anchor: middle" x="246.781091" y="611.897539" transform="rotate(-0 246.781091 611.897539)">40</text>
     </g>
    </g>
    <g id="xtick_11">
     <g id="line2d_40">
      <g>
       <use href="#mbb0f81d00a" x="297.399273" y="598.248" style="stroke: #000000; stroke-width: 0.748"/>
      </g>
     </g>
     <g id="text_16">
      <text style="font-size: 9.35px; font-family: 'DejaVu Sans', 'Liberation Sans', sans-serif; text-anchor: middle" x="297.399273" y="611.897539" transform="rotate(-0 297.399273 611.897539)">50</text>
     </g>
    </g>
    <g id="xtick_12">
     <g id="line2d_41">
      <g>
       <use href="#mbb0f81d00a" x="348.017455" y="598.248" style="stroke: #000000; stroke-width: 0.748"/>
      </g>
     </g>
     <g id="text_17">
      <text style="font-size: 9.35px; font-family: 'DejaVu Sans', 'Liberation Sans', sans-serif; text-anchor: middle" x="348.017455" y="611.897539" transform="rotate(-0 348.017455 611.897539)">60</text>
     </g>
    </g>
    <g id="text_18">
     <text style="font-size: 9.35px; font-family: 'DejaVu Sans', 'Liberation Sans', sans-serif; text-anchor: middle" x="221.472" y="625.478586" transform="rotate(-0 221.472 625.478586)">number of access</text>
    </g>
   </g>
   <g id="matplotlib.axis_4">
    <g id="ytick_19">
     <g id="line2d_42">
      <defs>
       <path id="m008f35bac0" d="M 0 0 
L -3.2725 0 
" style="stroke: #000000; stroke-width: 0.748"/>
      </defs>
      <g>
       <use href="#m008f35bac0" x="54.432" y="581.688" style="stroke: #000000; stroke-width: 0.748"/>
      </g>
     </g>
     <g id="text_19">
      <!-- $\mathdefault{10^{-4}}$ -->
      <g transform="translate(25.9145 585.7903)">
       <text><tspan x="0" y="-0.960938" style="font-size: 9.35px; font-family: 'DejaVu Sans', 'Liberation Sans', sans-serif">10</tspan><tspan x="12.015454" y="-4.40625" style="font-size: 6.545px; font-family: 'DejaVu Sans', 'Liberation Sans', sans-serif">−4</tspan></text>
      </g>
     </g>
    </g>
    <g id="ytick_20">
     <g id="line2d_43">
      <g>
       <use href="#m008f35bac0" x="54.432" y="496.872" style="stroke: #000000; stroke-width: 0.748"/>
      </g>
     </g>
     <g id="text_20">
      <!-- $\mathdefault{10^{-3}}$ -->
      <g transform="translate(25.9145 500.9743)">
       <text><tspan x="0" y="-0.873438" style="font-size: 9.35px; font-family: 'DejaVu Sans', 'Liberation Sans', sans-serif">10</tspan><tspan x="12.015454" y="-4.31875" style="font-size: 6.545px; font-family: 'DejaVu Sans', 'Liberation Sans', sans-serif">−3</tspan></text>
      </g>
     </g>
    </g>
    <g id="ytick_21">
     <g id="line2d_44">
      <g>
       <use href="#m008f35bac0" x="54.432" y="412.056" style="stroke: #000000; stroke-width: 0.748"/>
      </g>
     </g>
     <g id="text_21">
      <!-- $\mathdefault{10^{-2}}$ -->
      <g transform="translate(25.9145 416.1583)">
       <text><tspan x="0" y="-0.873438" style="font-size: 9.35px; font-family: 'DejaVu Sans', 'Liberation Sans', sans-serif">10</tspan><tspan x="12.015454" y="-4.31875" style="font-size: 6.545px; font-family: 'DejaVu Sans', 'Liberation Sans', sans-serif">−2</tspan></text>
      </g>
     </g>
    </g>
    <g id="ytick_22">
     <g id="line2d_45">
      <defs>
       <path id="m09089cd47a" d="M 0 0 
L -1.87 0 
" style="stroke: #000000; stroke-width: 0.561"/>
      </defs>
      <g>
       <use href="#m09089cd47a" x="54.432" y="594.826165" style="stroke: #000000; stroke-width: 0.561"/>
      </g>
     </g>
    </g>
    <g id="ytick_23">
     <g id="line2d_46">
      <g>
       <use href="#m09089cd47a" x="54.432" y="589.90752" style="stroke: #000000; stroke-width: 0.561"/>
      </g>
     </g>
    </g>
    <g id="ytick_24">
     <g id="line2d_47">
      <g>
       <use href="#m09089cd47a" x="54.432" y="585.568967" style="stroke: #000000; stroke-width: 0.561"/>
      </g>
     </g>
    </g>
    <g id="ytick_25">
     <g id="line2d_48">
      <g>
       <use href="#m09089cd47a" x="54.432" y="556.15584" style="stroke: #000000; stroke-width: 0.561"/>
      </g>
     </g>
    </g>
    <g id="ytick_26">
     <g id="line2d_49">
      <g>
       <use href="#m09089cd47a" x="54.432" y="541.220484" style="stroke: #000000; stroke-width: 0.561"/>
      </g>
     </g>
    </g>
    <g id="ytick_27">
     <g id="line2d_50">
      <g>
       <use href="#m09089cd47a" x="54.432" y="530.62368" style="stroke: #000000; stroke-width: 0.561"/>
      </g>
     </g>
    </g>
    <g id="ytick_28">
     <g id="line2d_51">
      <g>
       <use href="#m09089cd47a" x="54.432" y="522.40416" style="stroke: #000000; stroke-width: 0.561"/>
      </g>
     </g>
    </g>
    <g id="ytick_29">
     <g id="line2d_52">
      <g>
       <use href="#m09089cd47a" x="54.432" y="515.688324" style="stroke: #000000; stroke-width: 0.561"/>
      </g>
     </g>
    </g>
    <g id="ytick_30">
     <g id="line2d_53">
      <g>
       <use href="#m09089cd47a" x="54.432" y="510.010165" style="stroke: #000000; stroke-width: 0.561"/>
      </g>
     </g>
    </g>
    <g id="ytick_31">
     <g id="line2d_54">
      <g>
       <use href="#m09089cd47a" x="54.432" y="505.09152" style="stroke: #000000; stroke-width: 0.561"/>
      </g>
     </g>
    </g>
    <g id="ytick_32">
     <g id="line2d_55">
      <g>
       <use href="#m09089cd47a" x="54.432" y="500.752967" style="stroke: #000000; stroke-width: 0.561"/>
      </g>
     </g>
    </g>
    <g id="ytick_33">
     <g id="line2d_56">
      <g>
       <use href="#m09089cd47a" x="54.432" y="471.33984" style="stroke: #000000; stroke-width: 0.561"/>
      </g>
     </g>
    </g>
    <g id="ytick_34">
     <g id="line2d_57">
      <g>
       <use href="#m09089cd47a" x="54.432" y="456.404484" style="stroke: #000000; stroke-width: 0.561"/>
      </g>
     </g>
    </g>
    <g id="ytick_35">
     <g id="line2d_58">
      <g>
       <use href="#m09089cd47a" x="54.432" y="445.80768" style="stroke: #000000; stroke-width: 0.561"/>
      </g>
     </g>
    </g>
    <g id="ytick_36">
     <g id="line2d_59">
      <g>
       <use href="#m09089cd47a" x="54.432" y="437.58816" style="stroke: #000000; stroke-width: 0.561"/>
      </g>
     </g>
    </g>
    <g id="ytick_37">
     <g id="line2d_60">
      <g>
       <use href="#m09089cd47a" x="54.432" y="430.872324" style="stroke: #000000; stroke-width: 0.561"/>
      </g>
     </g>
    </g>
    <g id="ytick_38">
     <g id="line2d_61">
      <g>
       <use href="#m09089cd47a" x="54.432" y="425.194165" style="stroke: #000000; stroke-width: 0.561"/>
      </g>
     </g>
    </g>
    <g id="ytick_39">
     <g id="line2d_62">
      <g>
       <use href="#m09089cd47a" x="54.432" y="420.27552" style="stroke: #000000; stroke-width: 0.561"/>
      </g>
     </g>
    </g>
    <g id="ytick_40">
     <g id="line2d_63">
      <g>
       <use href="#m09089cd47a" x="54.432" y="415.936967" style="stroke: #000000; stroke-width: 0.561"/>
      </g>
     </g>
    </g>
    <g id="ytick_41">
     <g id="line2d_64">
      <g>
       <use href="#m09089cd47a" x="54.432" y="386.52384" style="stroke: #000000; stroke-width: 0.561"/>
      </g>
     </g>
    </g>
    <g id="ytick_42">
     <g id="line2d_65">
      <g>
       <use href="#m09089cd47a" x="54.432" y="371.588484" style="stroke: #000000; stroke-width: 0.561"/>
      </g>
     </g>
    </g>
    <g id="ytick_43">
     <g id="line2d_66">
      <g>
       <use href="#m09089cd47a" x="54.432" y="360.99168" style="stroke: #000000; stroke-width: 0.561"/>
      </g>
     </g>
    </g>
    <g id="ytick_44">
     <g id="line2d_67">
      <g>
       <use href="#m09089cd47a" x="54.432" y="352.77216" style="stroke: #000000; stroke-width: 0.561"/>
      </g>
     </g>
    </g>
    <g id="text_22">
     <text style="font-size: 9.35px; font-family: 'DejaVu Sans', 'Liberation Sans', sans-serif; text-anchor: middle" x="20.589992" y="474.084" transform="rotate(-90 20.589992 474.084)">time (seconds)</text>
    </g>
   </g>
   <g id="line2d_68">
    <path d="M 69.617455 362.232 
L 94.926545 362.376 
L 120.235636 362.52 
L 145.544727 362.592 
L 170.853818 362.736 
L 196.162909 362.52 
L 221.472 362.52 
L 246.781091 362.808 
L 272.090182 362.52 
L 297.399273 362.52 
L 322.708364 362.376 
L 348.017455 362.664 
L 373.326545 362.52 
" clip-path="url(#p1021fd6c95)" style="fill: none; stroke-dasharray: 9.5744,2.3936,1.496,2.3936; stroke-dashoffset: 0; stroke: #ff0000; stroke-width: 1.496"/>
    <defs>
     <path id="ma4664e23d4" d="M 0 2.805 
C 0.743895 2.805 1.457422 2.509448 1.983435 1.983435 
C 2.509448 1.457422 2.805 0.743895 2.805 0 
C 2.805 -0.743895 2.509448 -1.457422 1.983435 -1.983435 
C 1.457422 -2.509448 0.743895 -2.805 0 -2.805 
C -0.743895 -2.805 -1.457422 -2.509448 -1.983435 -1.983435 
C -2.509448 -1.457422 -2.805 -0.743895 -2.805 0 
C -2.805 0.743895 -2.509448 1.457422 -1.983435 1.983435 
C -1.457422 2.509448 -0.743895 2.805 0 2.805 
z
" style="stroke: #ff0000; stroke-width: 0.935"/>
    </defs>
    <g clip-path="url(#p1021fd6c95)">
     <use href="#ma4664e23d4" x="69.617455" y="362.232" style="fill: #ff0000; stroke: #ff0000; stroke-width: 0.935"/>
     <use href="#ma4664e23d4" x="94.926545" y="362.376" style="fill: #ff0000; stroke: #ff0000; stroke-width: 0.935"/>
     <use href="#ma4664e23d4" x="120.235636" y="362.52" style="fill: #ff0000; stroke: #ff0000; stroke-width: 0.935"/>
     <use href="#ma4664e23d4" x="145.544727" y="362.592" style="fill: #ff0000; stroke: #ff0000; stroke-width: 0.935"/>
     <use href="#ma4664e23d4" x="170.853818" y="362.736" style="fill: #ff0000; stroke: #ff0000; stroke-width: 0.935"/>
     <use href="#ma4664e23d4" x="196.162909" y="362.52" style="fill: #ff0000; stroke: #ff0000; stroke-width: 0.935"/>
     <use href="#ma4664e23d4" x="221.472" y="362.52" style="fill: #ff0000; stroke: #ff0000; stroke-width: 0.935"/>
     <use href="#ma4664e23d4" x="246.781091" y="362.808" style="fill: #ff0000; stroke: #ff0000; stroke-width: 0.935"/>
     <use href="#ma4664e23d4" x="272.090182" y="362.52" style="fill: #ff0000; stroke: #ff0000; stroke-width: 0.935"/>
     <use href="#ma4664e23d4" x="297.399273" y="362.52" style="fill: #ff0000; stroke: #ff0000; stroke-width: 0.935"/>
     <use href="#ma4664e23d4" x="322.708364" y="362.376" style="fill: #ff0000; stroke: #ff0000; stroke-width: 0.935"/>
     <use href="#ma4664e23d4" x="348.017455" y="362.664" style="fill: #ff0000; stroke: #ff0000; stroke-width: 0.935"/>
     <use href="#ma4664e23d4" x="373.326545" y="362.52" style="fill: #ff0000; stroke: #ff0000; stroke-width: 0.935"/>
    </g>
   </g>
   <g id="line2d_69">
    <path d="M 69.617455 361.08 
L 94.926545 361.08 
L 120.235636 361.368 
L 145.544727 360.936 
L 170.853818 361.296 
L 196.162909 361.08 
L 221.472 361.08 
L 246.781091 361.512 
L 272.090182 361.08 
L 297.399273 360.936 
L 322.708364 360.648 
L 348.017455 361.152 
L 373.326545 361.152 
" clip-path="url(#p1021fd6c95)" style="fill: none; stroke: #008000; stroke-width: 1.496; stroke-linecap: square"/>
    <defs>
     <path id="m13273a76b4" d="M -2.805 2.805 
L 2.805 2.805 
L 2.805 -2.805 
L -2.805 -2.805 
z
" style="stroke: #008000; stroke-width: 0.935; stroke-linejoin: miter"/>
    </defs>
    <g clip-path="url(#p1021fd6c95)">
     <use href="#m13273a76b4" x="69.617455" y="361.08" style="fill: #008000; stroke: #008000; stroke-width: 0.935; stroke-linejoin: miter"/>
     <use href="#m13273a76b4" x="94.926545" y="361.08" style="fill: #008000; stroke: #008000; stroke-width: 0.935; stroke-linejoin: miter"/>
     <use href="#m13273a76b4" x="120.235636" y="361.368" style="fill: #008000; stroke: #008000; stroke-width: 0.935; stroke-linejoin: miter"/>
     <use href="#m13273a76b4" x="145.544727" y="360.936" style="fill: #008000; stroke: #008000; stroke-width: 0.935; stroke-linejoin: miter"/>
     <use href="#m13273a76b4" x="170.853818" y="361.296" style="fill: #008000; stroke: #008000; stroke-width: 0.935; stroke-linejoin: miter"/>
     <use href="#m13273a76b4" x="196.162909" y="361.08" style="fill: #008000; stroke: #008000; stroke-width: 0.935; stroke-linejoin: miter"/>
     <use href="#m13273a76b4" x="221.472" y="361.08" style="fill: #008000; stroke: #008000; stroke-width: 0.935; stroke-linejoin: miter"/>
     <use href="#m13273a76b4" x="246.781091" y="361.512" style="fill: #008000; stroke: #008000; stroke-width: 0.935; stroke-linejoin: miter"/>
     <use href="#m13273a76b4" x="272.090182" y="361.08" style="fill: #008000; stroke: #008000; stroke-width: 0.935; stroke-linejoin: miter"/>
     <use href="#m13273a76b4" x="297.399273" y="360.936" style="fill: #008000; stroke: #008000; stroke-width: 0.935; stroke-linejoin: miter"/>
     <use href="#m13273a76b4" x="322.708364" y="360.648" style="fill: #008000; stroke: #008000; stroke-width: 0.935; stroke-linejoin: miter"/>
     <use href="#m13273a76b4" x="348.017455" y="361.152" style="fill: #008000; stroke: #008000; stroke-width: 0.935; stroke-linejoin: miter"/>
     <use href="#m13273a76b4" x="373.326545" y="361.152" style="fill: #008000; stroke: #008000; stroke-width: 0.935; stroke-linejoin: miter"/>
    </g>
   </g>
   <g id="line2d_70">
    <path d="M 69.617455 370.008 
L 94.926545 370.152 
L 120.235636 370.152 
L 145.544727 369.864 
L 170.853818 369.936 
L 196.162909 370.44 
L 221.472 370.152 
L 246.781091 370.152 
L 272.090182 370.008 
L 297.399273 370.44 
L 322.708364 370.584 
L 348.017455 370.44 
L 373.326545 370.44 
" clip-path="url(#p1021fd6c95)" style="fill: none; stroke-dasharray: 1.496,2.4684; stroke-dashoffset: 0; stroke: #0000ff; stroke-width: 1.496"/>
    <defs>
     <path id="mfd282a731b" d="M 0 0 
L 0 2.805 
M 0 0 
L 2.244 -1.4025 
M 0 0 
L -2.244 -1.4025 
" style="stroke: #0000ff; stroke-width: 0.935"/>
    </defs>
    <g clip-path="url(#p1021fd6c95)">
     <use href="#mfd282a731b" x="69.617455" y="370.008" style="fill: #0000ff; stroke: #0000ff; stroke-width: 0.935"/>
     <use href="#mfd282a731b" x="94.926545" y="370.152" style="fill: #0000ff; stroke: #0000ff; stroke-width: 0.935"/>
     <use href="#mfd282a731b" x="120.235636" y="370.152" style="fill: #0000ff; stroke: #0000ff; stroke-width: 0.935"/>
     <use href="#mfd282a731b" x="145.544727" y="369.864" style="fill: #0000ff; stroke: #0000ff; stroke-width: 0.935"/>
     <use href="#mfd282a731b" x="170.853818" y="369.936" style="fill: #0000ff; stroke: #0000ff; stroke-width: 0.935"/>
     <use href="#mfd282a731b" x="196.162909" y="370.44" style="fill: #0000ff; stroke: #0000ff; stroke-width: 0.935"/>
     <use href="#mfd282a731b" x="221.472" y="370.152" style="fill: #0000ff; stroke: #0000ff; stroke-width: 0.935"/>
     <use href="#mfd282a731b" x="246.781091" y="370.152" style="fill: #0000ff; stroke: #0000ff; stroke-width: 0.935"/>
     <use href="#mfd282a731b" x="272.090182" y="370.008" style="fill: #0000ff; stroke: #0000ff; stroke-width: 0.935"/>
     <use href="#mfd282a731b" x="297.399273" y="370.44" style="fill: #0000ff; stroke: #0000ff; stroke-width: 0.935"/>
     <use href="#mfd282a731b" x="322.708364" y="370.584" style="fill: #0000ff; stroke: #0000ff; stroke-width: 0.935"/>
     <use href="#mfd282a731b" x="348.017455" y="370.44" style="fill: #0000ff; stroke: #0000ff; stroke-width: 0.935"/>
     <use href="#mfd282a731b" x="373.326545" y="370.44" style="fill: #0000ff; stroke: #0000ff; stroke-width: 0.935"/>
    </g>
   </g>
   <g id="line2d_71">
    <path d="M 69.617455 377.352 
L 94.926545 376.92 
L 120.235636 376.92 
L 145.544727 377.352 
L 170.853818 376.92 
L 196.162909 376.92 
L 221.472 375.48 
L 246.781091 375.912 
L 272.090182 376.2 
L 297.399273 376.632 
L 322.708364 376.632 
L 348.017455 376.632 
L 373.326545 376.632 
" clip-path="url(#p1021fd6c95)" style="fill: none; stroke-dasharray: 5.5352,2.3936; stroke-dashoffset: 0; stroke: #bfbf00; stroke-width: 1.496"/>
    <defs>
     <path id="m03819b859d" d="M -2.805 -0 
L 2.805 2.805 
L 2.805 -2.805 
z
" style="stroke: #bfbf00; stroke-width: 0.935; stroke-linejoin: miter"/>
    </defs>
    <g clip-path="url(#p1021fd6c95)">
     <use href="#m03819b859d" x="69.617455" y="377.352" style="fill: #bfbf00; stroke: #bfbf00; stroke-width: 0.935; stroke-linejoin: miter"/>
     <use href="#m03819b859d" x="94.926545" y="376.92" style="fill: #bfbf00; stroke: #bfbf00; stroke-width: 0.935; stroke-linejoin: miter"/>
     <use href="#m03819b859d" x="120.235636" y="376.92" style="fill: #bfbf00; stroke: #bfbf00; stroke-width: 0.935; stroke-linejoin: miter"/>
     <use href="#m03819b859d" x="145.544727" y="377.352" style="fill: #bfbf00; stroke: #bfbf00; stroke-width: 0.935; stroke-linejoin: miter"/>
     <use href="#m03819b859d" x="170.853818" y="376.92" style="fill: #bfbf00; stroke: #bfbf00; stroke-width: 0.935; stroke-linejoin: miter"/>
     <use href="#m03819b859d" x="196.162909" y="376.92" style="fill: #bfbf00; stroke: #bfbf00; stroke-width: 0.935; stroke-linejoin: miter"/>
     <use href="#m03819b859d" x="221.472" y="375.48" style="fill: #bfbf00; stroke: #bfbf00; stroke-width: 0.935; stroke-linejoin: miter"/>
     <use href="#m03819b859d" x="246.781091" y="375.912" style="fill: #bfbf00; stroke: #bfbf00; stroke-width: 0.935; stroke-linejoin: miter"/>
     <use href="#m03819b859d" x="272.090182" y="376.2" style="fill: #bfbf00; stroke: #bfbf00; stroke-width: 0.935; stroke-linejoin: miter"/>
     <use href="#m03819b859d" x="297.399273" y="376.632" style="fill: #bfbf00; stroke: #bfbf00; stroke-width: 0.935; stroke-linejoin: miter"/>
     <use href="#m03819b859d" x="322.708364" y="376.632" style="fill: #bfbf00; stroke: #bfbf00; stroke-width: 0.935; stroke-linejoin: miter"/>
     <use href="#m03819b859d" x="348.017455" y="376.632" style="fill: #bfbf00; stroke: #bfbf00; stroke-width: 0.935; stroke-linejoin: miter"/>
     <use href="#m03819b859d" x="373.326545" y="376.632" style="fill: #bfbf00; stroke: #bfbf00; stroke-width: 0.935; stroke-linejoin: miter"/>
    </g>
   </g>
   <g id="line2d_72">
    <path d="M 69.617455 378.36 
L 94.926545 378.072 
L 120.235636 377.928 
L 145.544727 378.36 
L 170.853818 378.36 
L 196.162909 378.36 
L 221.472 378.36 
L 246.781091 378.36 
L 272.090182 378.36 
L 297.399273 378.72 
L 322.708364 378.648 
L 348.017455 378.648 
L 373.326545 378.648 
" clip-path="url(#p1021fd6c95)" style="fill: none; stroke-dasharray: 9.5744,2.3936,1.496,2.3936; stroke-dashoffset: 0; stroke: #bf00bf; stroke-width: 1.496"/>
    <defs>
     <path id="m87c8fb8297" d="M 0 0 
L 2.805 0 
M 0 0 
L -1.4025 -2.244 
M 0 0 
L -1.4025 2.244 
" style="stroke: #bf00bf; stroke-width: 0.935"/>
    </defs>
    <g clip-path="url(#p1021fd6c95)">
     <use href="#m87c8fb8297" x="69.617455" y="378.36" style="fill: #bf00bf; stroke: #bf00bf; stroke-width: 0.935"/>
     <use href="#m87c8fb8297" x="94.926545" y="378.072" style="fill: #bf00bf; stroke: #bf00bf; stroke-width: 0.935"/>
     <use href="#m87c8fb8297" x="120.235636" y="377.928" style="fill: #bf00bf; stroke: #bf00bf; stroke-width: 0.935"/>
     <use href="#m87c8fb8297" x="145.544727" y="378.36" style="fill: #bf00bf; stroke: #bf00bf; stroke-width: 0.935"/>
     <use href="#m87c8fb8297" x="170.853818" y="378.36" style="fill: #bf00bf; stroke: #bf00bf; stroke-width: 0.935"/>
     <use href="#m87c8fb8297" x="196.162909" y="378.36" style="fill: #bf00bf; stroke: #bf00bf; stroke-width: 0.935"/>
     <use href="#m87c8fb8297" x="221.472" y="378.36" style="fill: #bf00bf; stroke: #bf00bf; stroke-width: 0.935"/>
     <use href="#m87c8fb8297" x="246.781091" y="378.36" style="fill: #bf00bf; stroke: #bf00bf; stroke-width: 0.935"/>
     <use href="#m87c8fb8297" x="272.090182" y="378.36" style="fill: #bf00bf; stroke: #bf00bf; stroke-width: 0.935"/>
     <use href="#m87c8fb8297" x="297.399273" y="378.72" style="fill: #bf00bf; stroke: #bf00bf; stroke-width: 0.935"/>
     <use href="#m87c8fb8297" x="322.708364" y="378.648" style="fill: #bf00bf; stroke: #bf00bf; stroke-width: 0.935"/>
     <use href="#m87c8fb8297" x="348.017455" y="378.648" style="fill: #bf00bf; stroke: #bf00bf; stroke-width: 0.935"/>
     <use href="#m87c8fb8297" x="373.326545" y="378.648" style="fill: #bf00bf; stroke: #bf00bf; stroke-width: 0.935"/>
    </g>
   </g>
   <g id="line2d_73">
    <path d="M 69.617455 387 
L 94.926545 387 
L 120.235636 388.152 
L 145.544727 387.72 
L 170.853818 387 
L 196.162909 388.008 
L 221.472 387.432 
L 246.781091 387 
L 272.090182 387 
L 297.399273 387.432 
L 322.708364 387.648 
L 348.017455 387.072 
L 373.326545 387.432 
" clip-path="url(#p1021fd6c95)" style="fill: none; stroke-dasharray: 1.496,2.4684; stroke-dashoffset: 0; stroke: #bf00bf; stroke-width: 1.496"/>
    <defs>
     <path id="mdeaf7a0825" d="M -0 2.805 
L 2.805 -2.805 
L -2.805 -2.805 
z
" style="stroke: #bf00bf; stroke-width: 0.935; stroke-linejoin: miter"/>
    </defs>
    <g clip-path="url(#p1021fd6c95)">
     <use href="#mdeaf7a0825" x="69.617455" y="387" style="fill: #bf00bf; stroke: #bf00bf; stroke-width: 0.935; stroke-linejoin: miter"/>
     <use href="#mdeaf7a0825" x="94.926545" y="387" style="fill: #bf00bf; stroke: #bf00bf; stroke-width: 0.935; stroke-linejoin: miter"/>
     <use href="#mdeaf7a0825" x="120.235636" y="388.152" style="fill: #bf00bf; stroke: #bf00bf; stroke-width: 0.935; stroke-linejoin: miter"/>
     <use href="#mdeaf7a0825" x="145.544727" y="387.72" style="fill: #bf00bf; stroke: #bf00bf; stroke-width: 0.935; stroke-linejoin: miter"/>
     <use href="#mdeaf7a0825" x="170.853818" y="387" style="fill: #bf00bf; stroke: #bf00bf; stroke-width: 0.935; stroke-linejoin: miter"/>
     <use href="#mdeaf7a0825" x="196.162909" y="388.008" style="fill: #bf00bf; stroke: #bf00bf; stroke-width: 0.935; stroke-linejoin: miter"/>
     <use href="#mdeaf7a0825" x="221.472" y="387.432" style="fill: #bf00bf; stroke: #bf00bf; stroke-width: 0.935; stroke-linejoin: miter"/>
     <use href="#mdeaf7a0825" x="246.781091" y="387" style="fill: #bf00bf; stroke: #bf00bf; stroke-width: 0.935; stroke-linejoin: miter"/>
     <use href="#mdeaf7a0825" x="272.090182" y="387" style="fill: #bf00bf; stroke: #bf00bf; stroke-width: 0.935; stroke-linejoin: miter"/>
     <use href="#mdeaf7a0825" x="297.399273" y="387.432" style="fill: #bf00bf; stroke: #bf00bf; stroke-width: 0.935; stroke-linejoin: miter"/>
     <use href="#mdeaf7a0825" x="322.708364" y="387.648" style="fill: #bf00bf; stroke: #bf00bf; stroke-width: 0.935; stroke-linejoin: miter"/>
     <use href="#mdeaf7a0825" x="348.017455" y="387.072" style="fill: #bf00bf; stroke: #bf00bf; stroke-width: 0.935; stroke-linejoin: miter"/>
     <use href="#mdeaf7a0825" x="373.326545" y="387.432" style="fill: #bf00bf; stroke: #bf00bf; stroke-width: 0.935; stroke-linejoin: miter"/>
    </g>
   </g>
   <g id="line2d_74">
    <path d="M 69.617455 399.384 
L 94.926545 399.384 
L 120.235636 400.392 
L 145.544727 399.744 
L 170.853818 400.464 
L 196.162909 400.464 
L 221.472 400.752 
L 246.781091 401.04 
L 272.090182 401.472 
L 297.399273 400.464 
L 322.708364 400.32 
L 348.017455 399.528 
L 373.326545 400.32 
" clip-path="url(#p1021fd6c95)" style="fill: none; stroke-dasharray: 5.5352,2.3936; stroke-dashoffset: 0; stroke: #008000; stroke-width: 1.496"/>
    <defs>
     <path id="m29fe755898" d="M 0 -2.805 
L -0.629762 -0.866793 
L -2.667714 -0.866793 
L -1.018976 0.331085 
L -1.648738 2.269293 
L -0 1.071415 
L 1.648738 2.269293 
L 1.018976 0.331085 
L 2.667714 -0.866793 
L 0.629762 -0.866793 
z
" style="stroke: #008000; stroke-width: 0.935; stroke-linejoin: bevel"/>
    </defs>
    <g clip-path="url(#p1021fd6c95)">
     <use href="#m29fe755898" x="69.617455" y="399.384" style="fill: #008000; stroke: #008000; stroke-width: 0.935; stroke-linejoin: bevel"/>
     <use href="#m29fe755898" x="94.926545" y="399.384" style="fill: #008000; stroke: #008000; stroke-width: 0.935; stroke-linejoin: bevel"/>
     <use href="#m29fe755898" x="120.235636" y="400.392" style="fill: #008000; stroke: #008000; stroke-width: 0.935; stroke-linejoin: bevel"/>
     <use href="#m29fe755898" x="145.544727" y="399.744" style="fill: #008000; stroke: #008000; stroke-width: 0.935; stroke-linejoin: bevel"/>
     <use href="#m29fe755898" x="170.853818" y="400.464" style="fill: #008000; stroke: #008000; stroke-width: 0.935; stroke-linejoin: bevel"/>
     <use href="#m29fe755898" x="196.162909" y="400.464" style="fill: #008000; stroke: #008000; stroke-width: 0.935; stroke-linejoin: bevel"/>
     <use href="#m29fe755898" x="221.472" y="400.752" style="fill: #008000; stroke: #008000; stroke-width: 0.935; stroke-linejoin: bevel"/>
     <use href="#m29fe755898" x="246.781091" y="401.04" style="fill: #008000; stroke: #008000; stroke-width: 0.935; stroke-linejoin: bevel"/>
     <use href="#m29fe755898" x="272.090182" y="401.472" style="fill: #008000; stroke: #008000; stroke-width: 0.935; stroke-linejoin: bevel"/>
     <use href="#m29fe755898" x="297.399273" y="400.464" style="fill: #008000; stroke: #008000; stroke-width: 0.935; stroke-linejoin: bevel"/>
     <use href="#m29fe755898" x="322.708364" y="400.32" style="fill: #008000; stroke: #008000; stroke-width: 0.935; stroke-linejoin: bevel"/>
     <use href="#m29fe755898" x="348.017455" y="399.528" style="fill: #008000; stroke: #008000; stroke-width: 0.935; stroke-linejoin: bevel"/>
     <use href="#m29fe755898" x="373.326545" y="400.32" style="fill: #008000; stroke: #008000; stroke-width: 0.935; stroke-linejoin: bevel"/>
    </g>
   </g>
   <g id="line2d_75">
    <path d="M 69.617455 403.272 
L 94.926545 402.84 
L 120.235636 402.12 
L 145.544727 402.408 
L 170.853818 401.688 
L 196.162909 401.688 
L 221.472 400.392 
L 246.781091 398.952 
L 272.090182 397.512 
L 297.399273 398.88 
L 322.708364 398.88 
L 348.017455 399.24 
L 373.326545 398.88 
" clip-path="url(#p1021fd6c95)" style="fill: none; stroke-dasharray: 5.5352,2.3936; stroke-dashoffset: 0; stroke: #ff0000; stroke-width: 1.496"/>
    <defs>
     <path id="mdb40c166eb" d="M 0 -2.805 
L -2.667714 -0.866793 
L -1.648738 2.269293 
L 1.648738 2.269293 
L 2.667714 -0.866793 
z
" style="stroke: #ff0000; stroke-width: 0.935; stroke-linejoin: miter"/>
    </defs>
    <g clip-path="url(#p1021fd6c95)">
     <use href="#mdb40c166eb" x="69.617455" y="403.272" style="fill: #ff0000; stroke: #ff0000; stroke-width: 0.935; stroke-linejoin: miter"/>
     <use href="#mdb40c166eb" x="94.926545" y="402.84" style="fill: #ff0000; stroke: #ff0000; stroke-width: 0.935; stroke-linejoin: miter"/>
     <use href="#mdb40c166eb" x="120.235636" y="402.12" style="fill: #ff0000; stroke: #ff0000; stroke-width: 0.935; stroke-linejoin: miter"/>
     <use href="#mdb40c166eb" x="145.544727" y="402.408" style="fill: #ff0000; stroke: #ff0000; stroke-width: 0.935; stroke-linejoin: miter"/>
     <use href="#mdb40c166eb" x="170.853818" y="401.688" style="fill: #ff0000; stroke: #ff0000; stroke-width: 0.935; stroke-linejoin: miter"/>
     <use href="#mdb40c166eb" x="196.162909" y="401.688" style="fill: #ff0000; stroke: #ff0000; stroke-width: 0.935; stroke-linejoin: miter"/>
     <use href="#mdb40c166eb" x="221.472" y="400.392" style="fill: #ff0000; stroke: #ff0000; stroke-width: 0.935; stroke-linejoin: miter"/>
     <use href="#mdb40c166eb" x="246.781091" y="398.952" style="fill: #ff0000; stroke: #ff0000; stroke-width: 0.935; stroke-linejoin: miter"/>
     <use href="#mdb40c166eb" x="272.090182" y="397.512" style="fill: #ff0000; stroke: #ff0000; stroke-width: 0.935; stroke-linejoin: miter"/>
     <use href="#mdb40c166eb" x="297.399273" y="398.88" style="fill: #ff0000; stroke: #ff0000; stroke-width: 0.935; stroke-linejoin: miter"/>
     <use href="#mdb40c166eb" x="322.708364" y="398.88" style="fill: #ff0000; stroke: #ff0000; stroke-width: 0.935; stroke-linejoin: miter"/>
     <use href="#mdb40c166eb" x="348.017455" y="399.24" style="fill: #ff0000; stroke: #ff0000; stroke-width: 0.935; stroke-linejoin: miter"/>
     <use href="#mdb40c166eb" x="373.326545" y="398.88" style="fill: #ff0000; stroke: #ff0000; stroke-width: 0.935; stroke-linejoin: miter"/>
    </g>
   </g>
   <g id="line2d_76">
    <path d="M 69.617455 557.784 
L 94.926545 546.768 
L 120.235636 535.752 
L 145.544727 530.136 
L 170.853818 525.096 
L 196.162909 519.768 
L 221.472 516.528 
L 246.781091 513.864 
L 272.090182 510.408 
L 297.399273 507.888 
L 322.708364 505.368 
L 348.017455 502.848 
L 373.326545 501.264 
" clip-path="url(#p1021fd6c95)" style="fill: none; stroke: #0000ff; stroke-width: 1.496; stroke-linecap: square"/>
    <defs>
     <path id="m62fcd869b5" d="M 0 1.4025 
C 0.371947 1.4025 0.728711 1.254724 0.991717 0.991717 
C 1.254724 0.728711 1.4025 0.371947 1.4025 0 
C 1.4025 -0.371947 1.254724 -0.728711 0.991717 -0.991717 
C 0.728711 -1.254724 0.371947 -1.4025 0 -1.4025 
C -0.371947 -1.4025 -0.728711 -1.254724 -0.991717 -0.991717 
C -1.254724 -0.728711 -1.4025 -0.371947 -1.4025 0 
C -1.4025 0.371947 -1.254724 0.728711 -0.991717 0.991717 
C -0.728711 1.254724 -0.371947 1.4025 0 1.4025 
z
" style="stroke: #0000ff; stroke-width: 0.935"/>
    </defs>
    <g clip-path="url(#p1021fd6c95)">
     <use href="#m62fcd869b5" x="69.617455" y="557.784" style="fill: #0000ff; stroke: #0000ff; stroke-width: 0.935"/>
     <use href="#m62fcd869b5" x="94.926545" y="546.768" style="fill: #0000ff; stroke: #0000ff; stroke-width: 0.935"/>
     <use href="#m62fcd869b5" x="120.235636" y="535.752" style="fill: #0000ff; stroke: #0000ff; stroke-width: 0.935"/>
     <use href="#m62fcd869b5" x="145.544727" y="530.136" style="fill: #0000ff; stroke: #0000ff; stroke-width: 0.935"/>
     <use href="#m62fcd869b5" x="170.853818" y="525.096" style="fill: #0000ff; stroke: #0000ff; stroke-width: 0.935"/>
     <use href="#m62fcd869b5" x="196.162909" y="519.768" style="fill: #0000ff; stroke: #0000ff; stroke-width: 0.935"/>
     <use href="#m62fcd869b5" x="221.472" y="516.528" style="fill: #0000ff; stroke: #0000ff; stroke-width: 0.935"/>
     <use href="#m62fcd869b5" x="246.781091" y="513.864" style="fill: #0000ff; stroke: #0000ff; stroke-width: 0.935"/>
     <use href="#m62fcd869b5" x="272.090182" y="510.408" style="fill: #0000ff; stroke: #0000ff; stroke-width: 0.935"/>
     <use href="#m62fcd869b5" x="297.399273" y="507.888" style="fill: #0000ff; stroke: #0000ff; stroke-width: 0.935"/>
     <use href="#m62fcd869b5" x="322.708364" y="505.368" style="fill: #0000ff; stroke: #0000ff; stroke-width: 0.935"/>
     <use href="#m62fcd869b5" x="348.017455" y="502.848" style="fill: #0000ff; stroke: #0000ff; stroke-width: 0.935"/>
     <use href="#m62fcd869b5" x="373.326545" y="501.264" style="fill: #0000ff; stroke: #0000ff; stroke-width: 0.935"/>
    </g>
   </g>
   <g id="line2d_77">
    <path d="M 69.617455 586.872 
L 94.926545 574.056 
L 120.235636 562.824 
L 145.544727 558.72 
L 170.853818 552.456 
L 196.162909 547.128 
L 221.472 543.528 
L 246.781091 537.696 
L 272.090182 535.536 
L 297.399273 533.016 
L 322.708364 530.784 
L 348.017455 530.496 
L 373.326545 526.752 
" clip-path="url(#p1021fd6c95)" style="fill: none; stroke: #00bfbf; stroke-width: 1.496; stroke-linecap: square"/>
    <defs>
     <path id="m4c49f9a10d" d="M 0 -2.805 
L -2.805 2.805 
L 2.805 2.805 
z
" style="stroke: #00bfbf; stroke-width: 0.935; stroke-linejoin: miter"/>
    </defs>
    <g clip-path="url(#p1021fd6c95)">
     <use href="#m4c49f9a10d" x="69.617455" y="586.872" style="fill: #00bfbf; stroke: #00bfbf; stroke-width: 0.935; stroke-linejoin: miter"/>
     <use href="#m4c49f9a10d" x="94.926545" y="574.056" style="fill: #00bfbf; stroke: #00bfbf; stroke-width: 0.935; stroke-linejoin: miter"/>
     <use href="#m4c49f9a10d" x="120.235636" y="562.824" style="fill: #00bfbf; stroke: #00bfbf; stroke-width: 0.935; stroke-linejoin: miter"/>
     <use href="#m4c49f9a10d" x="145.544727" y="558.72" style="fill: #00bfbf; stroke: #00bfbf; stroke-width: 0.935; stroke-linejoin: miter"/>
     <use href="#m4c49f9a10d" x="170.853818" y="552.456" style="fill: #00bfbf; stroke: #00bfbf; stroke-width: 0.935; stroke-linejoin: miter"/>
     <use href="#m4c49f9a10d" x="196.162909" y="547.128" style="fill: #00bfbf; stroke: #00bfbf; stroke-width: 0.935; stroke-linejoin: miter"/>
     <use href="#m4c49f9a10d" x="221.472" y="543.528" style="fill: #00bfbf; stroke: #00bfbf; stroke-width: 0.935; stroke-linejoin: miter"/>
     <use href="#m4c49f9a10d" x="246.781091" y="537.696" style="fill: #00bfbf; stroke: #00bfbf; stroke-width: 0.935; stroke-linejoin: miter"/>
     <use href="#m4c49f9a10d" x="272.090182" y="535.536" style="fill: #00bfbf; stroke: #00bfbf; stroke-width: 0.935; stroke-linejoin: miter"/>
     <use href="#m4c49f9a10d" x="297.399273" y="533.016" style="fill: #00bfbf; stroke: #00bfbf; stroke-width: 0.935; stroke-linejoin: miter"/>
     <use href="#m4c49f9a10d" x="322.708364" y="530.784" style="fill: #00bfbf; stroke: #00bfbf; stroke-width: 0.935; stroke-linejoin: miter"/>
     <use href="#m4c49f9a10d" x="348.017455" y="530.496" style="fill: #00bfbf; stroke: #00bfbf; stroke-width: 0.935; stroke-linejoin: miter"/>
     <use href="#m4c49f9a10d" x="373.326545" y="526.752" style="fill: #00bfbf; stroke: #00bfbf; stroke-width: 0.935; stroke-linejoin: miter"/>
    </g>
   </g>
   <g id="patch_8">
    <path d="M 54.432 598.248 
L 54.432 349.2 
" style="fill: none; stroke: #000000; stroke-width: 0.79475; stroke-linejoin: miter; stroke-linecap: square"/>
   </g>
   <g id="patch_9">
    <path d="M 388.512 598.248 
L 388.512 349.2 
" style="fill: none; stroke: #000000; stroke-width: 0.79475; stroke-linejoin: miter; stroke-linecap: square"/>
   </g>
   <g id="patch_10">
    <path d="M 54.432 598.248 
L 388.512 598.248 
" style="fill: none; stroke: #000000; stroke-width: 0.79475; stroke-linejoin: miter; stroke-linecap: square"/>
   </g>
   <g id="patch_11">
    <path d="M 54.432 349.2 
L 388.512 349.2 
" style="fill: none; stroke: #000000; stroke-width: 0.79475; stroke-linejoin: miter; stroke-linecap: square"/>
   </g>
   <g id="text_23">
    <text style="font-size: 11.22px; font-family: 'DejaVu Sans', 'Liberation Sans', sans-serif; text-anchor: middle" x="225.036" y="343.59" transform="rotate(-0 225.036 343.59)">parse &amp; access entries @ 100000</text>
   </g>
  </g>
 </g>
 <defs>
  <clipPath id="p0f699a3572">
   <rect x="46.584" y="20.592" width="341.136" height="254.52"/>
  </clipPath>
  <clipPath id="p1021fd6c95">
   <rect x="54.432" y="349.2" width="334.08" height="249.048"/>
  </clipPath>
 </defs>
</svg>

</body></html>
